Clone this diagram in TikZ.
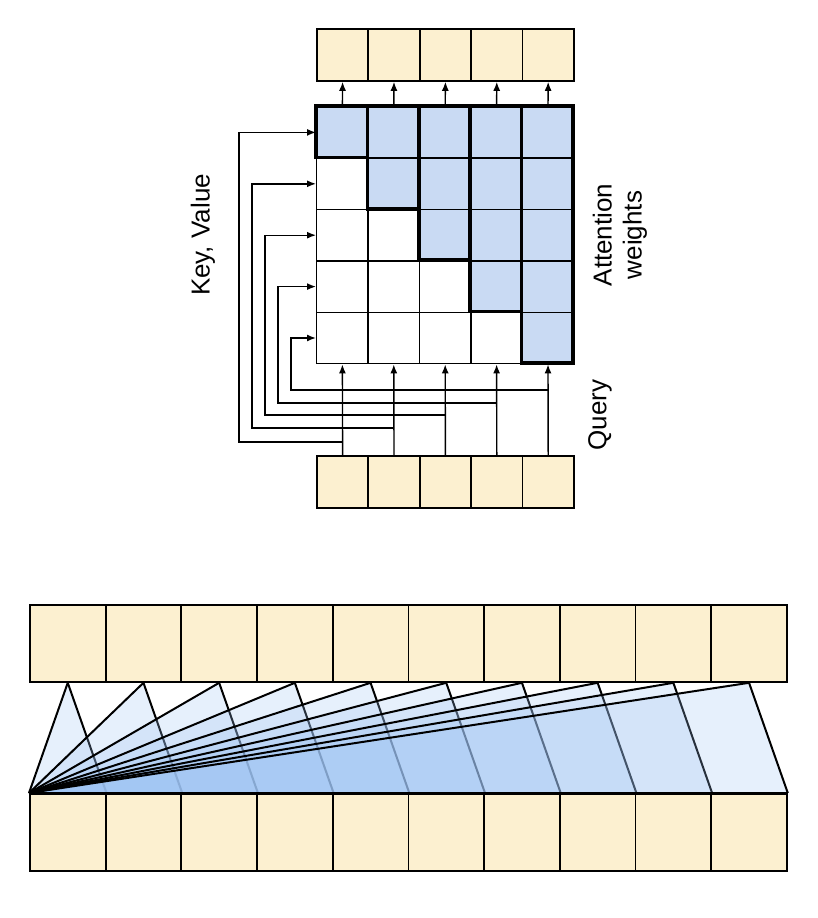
\documentclass[tikz,border=0pt]{standalone}
\usepackage{fontspec}
\setmainfont{Liberation Sans}
\usetikzlibrary{arrows.meta}
\begin{document}
\begin{tikzpicture}[x=1pt,y=-1pt,
  cream/.style={fill=creamc,draw=black,line width=1.8pt},
  arr/.style={-{Latex[length=9pt,width=7pt]},line width=1.4pt},
  lab/.style={font=\fontsize{26}{30}\selectfont,rotate=90,align=center}]
\definecolor{creamc}{HTML}{FCF0D0}
\definecolor{bluec}{HTML}{C9DAF3}
\definecolor{tric}{HTML}{9CC2F2}
\useasboundingbox (0,0) rectangle (818,918);
\def\cs{51.4}
\foreach \i in {0,...,4}{
  \node[cream,minimum width=\cs pt,minimum height=52pt,inner sep=0pt,anchor=north west] (o\i) at ({316+\cs*\i},28) {};
  \node[cream,minimum width=\cs pt,minimum height=52pt,inner sep=0pt,anchor=north west] (q\i) at ({316+\cs*\i},455) {};
}
\foreach \i in {0,...,4}{\foreach \j in {0,...,4}{
  \pgfmathsetmacro{\inblue}{\j<=\i ? 1 : 0}
  \ifnum\inblue=1
    \node[fill=bluec,draw=black,line width=1.4pt,minimum size=\cs pt,inner sep=0pt,anchor=north west] (g\i\j) at ({316+\cs*\i},{106+\cs*\j}) {};
  \else
    \node[draw=black,line width=1.4pt,minimum size=\cs pt,inner sep=0pt,anchor=north west] (g\i\j) at ({316+\cs*\i},{106+\cs*\j}) {};
  \fi
}}
\draw[line width=3.6pt,line join=miter] (316,106) -- (573,106) -- (573,363) -- ({316+4*\cs},363)
  \foreach \k in {4,3,2,1}{ -- ({316+\k*\cs},{106+(\k+1)*\cs}) -- ({316+\k*\cs},{106+\k*\cs}) -- ({316+(\k-1)*\cs},{106+\k*\cs}) } -- cycle;
\foreach \k in {1,2,3,4}{\draw[line width=3.6pt] ({316+\k*\cs},106) -- ({316+\k*\cs},{106+\k*\cs});}
\foreach \i in {0,...,4}{\draw[arr] (g\i0.north) -- (o\i.south);}
\foreach \i in {0,...,4}{\draw[arr] (q\i.north) -- (g\i4.south);}
\foreach \i/\lx/\ly in {0/239/442,1/252/428,2/265/415,3/278/403,4/291/390}{
  \coordinate (kv\i) at (q\i.north |- 0,\ly);
  \draw[arr] (kv\i) -| (\lx,0 |- g0\i.west) -- (g0\i.west);
}
\node[lab] (kvl) at (203,235) {Key, Value};
\node[lab] (attl) at (620,235) {Attention\\weights};
\node[lab] (ql) at (600,415) {Query};
\def\bw{75.7}
\foreach \i in {0,...,9}{
  \node[cream,minimum width=\bw pt,minimum height=77pt,inner sep=0pt,anchor=north west] (t\i) at ({29+\bw*\i},604) {};
  \node[cream,minimum width=\bw pt,minimum height=77pt,inner sep=0pt,anchor=north west] (b\i) at ({29+\bw*\i},793) {};
}
\coordinate (apex) at (b0.north west);
\foreach \i in {0,...,9}{
  \fill[tric,fill opacity=0.25] (apex) -- (t\i.south) -- (b\i.north east) -- cycle;
  \draw[line width=2pt] (t\i.south) -- (b\i.north east);
}
\foreach \i in {0,...,9}{\draw[line width=2pt] (apex) -- (t\i.south);}
\draw[line width=2pt] (b0.north west) -- (b9.north east);
\end{tikzpicture}
\end{document}
